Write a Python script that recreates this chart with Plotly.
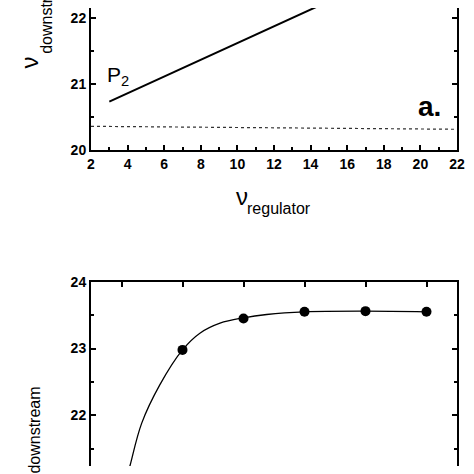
import plotly.graph_objects as go

# panel a: regulator frequency vs downstream frequency
line_x = [3, 15]
line_y = [20.73, 22.25]
base_x = [2, 22]
base_y = [20.355, 20.31]

# panel b: measured points and fitted curve
pts_x = [3, 5, 7, 9, 11]
pts_y = [22.98, 23.45, 23.55, 23.56, 23.55]
fit_x = [1.2, 1.28, 1.66, 2.26, 3, 3.57, 4.23, 5, 5.76, 7, 9, 11]
fit_y = [21.12, 21.25, 21.88, 22.46, 22.98, 23.23, 23.38, 23.46, 23.51, 23.55, 23.56, 23.55]

FONT = "Liberation Sans, Arial, sans-serif"
tick_font = dict(family=FONT, size=14, color="black", weight="bold")

fig = go.Figure()
fig.add_trace(go.Scatter(x=line_x, y=line_y, mode="lines",
                         line=dict(color="black", width=2), xaxis="x", yaxis="y"))
fig.add_trace(go.Scatter(x=base_x, y=base_y, mode="lines",
                         line=dict(color="#333", width=1.2, dash="dot"), xaxis="x", yaxis="y"))
fig.add_trace(go.Scatter(x=[None], y=[None], xaxis="x", yaxis="y3"))
fig.add_trace(go.Scatter(x=fit_x, y=fit_y, mode="lines", line_shape="spline",
                         line=dict(color="black", width=1.3), xaxis="x2", yaxis="y2"))
fig.add_trace(go.Scatter(x=pts_x, y=pts_y, mode="markers",
                         marker=dict(color="black", size=10), xaxis="x2", yaxis="y2"))
fig.add_trace(go.Scatter(x=[None], y=[None], xaxis="x2", yaxis="y4"))

axis_common = dict(showline=True, linecolor="black", linewidth=2, ticks="inside",
                   ticklen=5, tickwidth=1.5, tickcolor="black", showgrid=False,
                   zeroline=False, tickfont=tick_font)

fig.update_layout(
    width=474, height=474,
    margin=dict(l=91, r=17, t=0, b=0),
    paper_bgcolor="white", plot_bgcolor="white",
    showlegend=False,
    xaxis=dict(axis_common, domain=[0, 1], anchor="y", range=[2, 22], dtick=2,
               minor=dict(dtick=1, ticklen=3, ticks="inside", tickcolor="black")),
    yaxis=dict(axis_common, domain=[0.6905, 1], anchor="x", range=[20, 22.147], dtick=1,
               minor=dict(dtick=0.5, ticklen=3, ticks="inside", tickcolor="black")),
    yaxis3=dict(axis_common, overlaying="y", side="right", anchor="x", range=[20, 22.147],
                dtick=1, showticklabels=False,
                minor=dict(dtick=0.5, ticklen=3, ticks="inside", tickcolor="black")),
    xaxis2=dict(axis_common, domain=[0, 1], anchor="y2", side="top", range=[0, 12],
                tick0=1, dtick=2, showticklabels=False),
    yaxis2=dict(axis_common, domain=[0, 0.4023], anchor="x2", range=[21.242, 24], dtick=1,
                minor=dict(dtick=0.5, ticklen=3, ticks="inside", tickcolor="black")),
    yaxis4=dict(axis_common, overlaying="y2", side="right", anchor="x2", range=[21.242, 24],
                dtick=1, showticklabels=False,
                minor=dict(dtick=0.5, ticklen=3, ticks="inside", tickcolor="black")),
)

# in-plot labels
fig.add_annotation(x=2.75, y=21.12, xref="x", yref="y", text="P<sub>2</sub>", showarrow=False,
                   xanchor="left", yanchor="middle", font=dict(family=FONT, size=21, color="black"))
fig.add_annotation(x=20.49, y=20.66, xref="x", yref="y", text="a.", showarrow=False,
                   xanchor="center", yanchor="middle",
                   font=dict(family=FONT, size=28, color="black", weight="bold"))

# axis titles
nu_font = dict(family=FONT, size=24, color="black")
sub_font = dict(family=FONT, size=16, color="black")
titles = [
    # text, x, y, angle, yanchor, font
    ("ν", 0.412, 0.5886, 0, "middle", nu_font),
    ("regulator", 0.515, 0.5612, 0, "middle", sub_font),
    ("ν", -0.168, 0.8797, -90, "middle", nu_font),
    ("downstream", -0.1202, 0.8945, -90, "bottom", sub_font),
    ("downstream", -0.153, -0.022, -90, "bottom", sub_font),
    ("ν", -0.19, -0.05, -90, "middle", nu_font),
]
for text, x, y, angle, yanchor, font in titles:
    fig.add_annotation(x=x, y=y, xref="paper", yref="paper", text=text, textangle=angle,
                       xanchor="center", yanchor=yanchor, showarrow=False, font=font)

fig.write_html("out.html", config={"displayModeBar": False},
               post_script="document.body.style.margin='0';")
